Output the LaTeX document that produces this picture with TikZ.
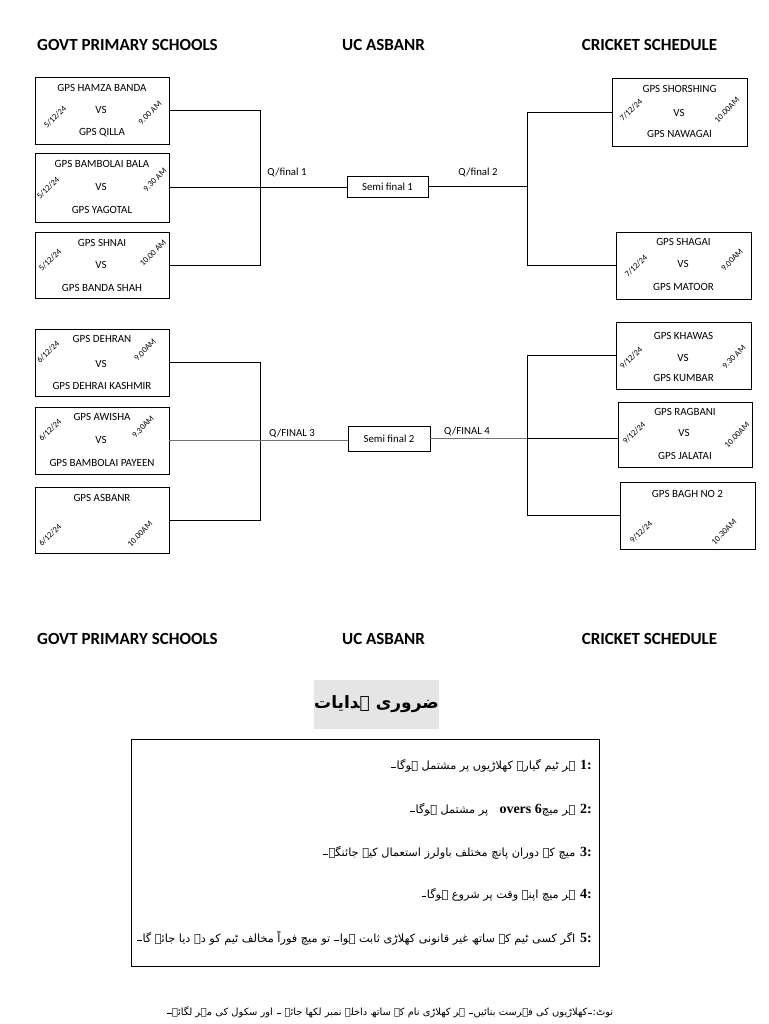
\documentclass[tikz,border=0pt]{standalone}
\usepackage{fontspec}
\setmainfont{Carlito}
\newfontfamily\urdu[Script=Arabic]{DejaVu Sans}
\newfontfamily\numfont{Liberation Serif}
\TeXXeTstate=1
% Urdu full stop, absent from the fonts, drawn as a short bar
\newcommand{\ustop}{\kern0.6pt\raisebox{0.28ex}{\rule{0.42em}{0.11em}}\kern0.6pt}
\newcommand{\unum}[1]{\beginL{\numfont\bfseries\fontsize{14}{16}\selectfont #1}\endL{}}
\begin{document}
\begin{tikzpicture}[x=1pt,y=-1pt,
  matchbox/.style={draw, line width=0.9pt, inner sep=0pt},
  team/.style={font=\fontsize{11}{13}\selectfont, inner sep=0pt},
  stamp/.style={font=\fontsize{8.5}{10}\selectfont, rotate=45, inner sep=0pt},
  semibox/.style={draw, line width=0.9pt, inner sep=0pt, font=\fontsize{10.8}{12}\selectfont},
  link/.style={line width=0.9pt},
  midlink/.style={line width=0.9pt, draw=black!55},
  qlabel/.style={font=\fontsize{10.8}{12}\selectfont, inner sep=0pt},
  header/.style={font=\bfseries\fontsize{17}{20}\selectfont, inner sep=0pt},
  urduline/.style={anchor=east, inner sep=0pt, font=\urdu\fontsize{11.3}{14}\selectfont},
  notestyle/.style={inner sep=0pt, font=\urdu\fontsize{9.9}{13}\selectfont},
  headbox/.style={fill=black!10, minimum width=95pt, minimum height=49pt, inner sep=0pt, font=\urdu\bfseries\fontsize{17}{20}\selectfont},
  rulebox/.style={draw, line width=0.9pt, inner sep=0pt, minimum width=468pt, minimum height=227pt}
]
\useasboundingbox (0,0) rectangle (768,1024);

% headers
\node[header] (h1) at (127.5,45) {GOVT PRIMARY SCHOOLS};
\node[header] (h2) at (383.5,45) {UC ASBANR};
\node[header] (h3) at (649.5,45) {CRICKET SCHEDULE};

% ---- top left matches
\node[matchbox, minimum width=134pt, minimum height=67pt] (m1) at (102,110.5) {};
\node[team] (m1a) at (102,88) {GPS HAMZA BANDA};
\node[team] (m1v) at (101,110) {VS};
\node[team] (m1b) at (102,133) {GPS QILLA};
\node[stamp] (m1d) at (55,117) {5/12/24};
\node[stamp] (m1t) at (150,113) {9.00 AM};

\node[matchbox, minimum width=134pt, minimum height=69pt] (m2) at (102,187.5) {};
\node[team] (m2a) at (102,164) {GPS BAMBOLAI BALA};
\node[team] (m2v) at (101,187) {VS};
\node[team] (m2b) at (102,210) {GPS YAGOTAL};
\node[stamp] (m2d) at (48,188) {5/12/24};
\node[stamp] (m2t) at (155,180) {9.30 AM};

\node[matchbox, minimum width=134pt, minimum height=66pt] (m3) at (102,265) {};
\node[team] (m3a) at (102,243) {GPS SHNAI};
\node[team] (m3v) at (101,265) {VS};
\node[team] (m3b) at (102,288) {GPS BANDA SHAH};
\node[stamp] (m3d) at (50,260) {5/12/24};
\node[stamp] (m3t) at (153,253) {10.00 AM};

% ---- top right matches
\node[matchbox, minimum width=135pt, minimum height=68pt] (m4) at (679.5,112) {};
\node[team] (m4a) at (679.5,89) {GPS SHORSHING};
\node[team] (m4v) at (679,113) {VS};
\node[team] (m4b) at (679.5,134) {GPS NAWAGAI};
\node[stamp] (m4d) at (631,110) {7/12/24};
\node[stamp] (m4t) at (727,110) {10.00AM};

\node[matchbox, minimum width=135pt, minimum height=67pt] (m5) at (683.5,265.5) {};
\node[team] (m5a) at (683.5,242) {GPS SHAGAI};
\node[team] (m5v) at (683,264) {VS};
\node[team] (m5b) at (683.5,287) {GPS MATOOR};
\node[stamp] (m5d) at (636,266) {7/12/24};
\node[stamp] (m5t) at (732,260) {9.00AM};

% ---- bottom left matches
\node[matchbox, minimum width=134pt, minimum height=67pt] (m6) at (102,362.5) {};
\node[team] (m6a) at (102,339) {GPS DEHRAN};
\node[team] (m6v) at (101,364) {VS};
\node[team] (m6b) at (102,386) {GPS DEHRAI KASHMIR};
\node[stamp] (m6d) at (48,352) {6/12/24};
\node[stamp] (m6t) at (145,350) {9.00AM};

\node[matchbox, minimum width=134pt, minimum height=67pt] (m7) at (102,440.5) {};
\node[team] (m7a) at (102,417) {GPS AWISHA};
\node[team] (m7v) at (101,440) {VS};
\node[team] (m7b) at (102,463) {GPS BAMBOLAI PAYEEN};
\node[stamp] (m7d) at (50,430) {6/12/24};
\node[stamp] (m7t) at (143,427) {9.30AM};

\node[matchbox, minimum width=134pt, minimum height=66pt] (m8) at (102,520) {};
\node[team] (m8a) at (102,498) {GPS ASBANR};
\node[stamp] (m8d) at (50,535) {6/12/24};
\node[stamp] (m8t) at (140,534) {10.00AM};

% ---- bottom right matches
\node[matchbox, minimum width=135pt, minimum height=67pt] (m9) at (683.5,355.5) {};
\node[team] (m9a) at (683.5,336) {GPS KHAWAS};
\node[team] (m9v) at (683,358) {VS};
\node[team] (m9b) at (683.5,378) {GPS KUMBAR};
\node[stamp] (m9d) at (631,358) {9/12/24};
\node[stamp] (m9t) at (734,357) {9.30 AM};

\node[matchbox, minimum width=134pt, minimum height=65pt] (m10) at (685,434.5) {};
\node[team] (m10a) at (685,412) {GPS RAGBANI};
\node[team] (m10v) at (684,433) {VS};
\node[team] (m10b) at (685,456) {GPS JALATAI};
\node[stamp] (m10d) at (634,433) {9/12/24};
\node[stamp] (m10t) at (737,435) {10.00AM};

\node[matchbox, minimum width=135pt, minimum height=67pt] (m11) at (687.5,515.5) {};
\node[team] (m11a) at (687.5,494) {GPS BAGH NO 2};
\node[stamp] (m11d) at (641,532) {9/12/24};
\node[stamp] (m11t) at (724,532) {10.30AM};

% ---- semi finals
\node[semibox, minimum width=81pt, minimum height=21pt] (s1) at (387.5,186.5) {Semi final 1};
\node[semibox, minimum width=82pt, minimum height=25pt] (s2) at (389,438.5) {Semi final 2};

% junction points
\coordinate (qa) at (260,187.5);
\coordinate (qb) at (527,186.5);
\coordinate (qc) at (260,440.5);
\coordinate (qd) at (527,438.5);

% connectors
\draw[link] (m1.east) -| (qa);
\draw[link] (m3.east) -| (qa);
\draw[link] (m2.east) -- (m2.east -| s1.west);
\draw[link] (s1.east) -- (qb);
\draw[link] (m4.west) -| (qb);
\draw[link] (m5.west) -| (qb);

\draw[link] (m6.east) -| (qc);
\draw[link] (m8.east) -| (qc);
\draw[midlink] (m7.east) -- (m7.east -| s2.west);
\draw[midlink] (s2.east) -- (s2.east -| m10.west);
\draw[link] (m9.west) -| (qd);
\draw[link] (m11.west) -| (qd);
\draw[link] (qd) -- (qd -| m10.west);

% labels
\node[qlabel] (l1) at (287,172) {Q/final 1};
\node[qlabel] (l2) at (478,172) {Q/final 2};
\node[qlabel] (l3) at (292,433) {Q/FINAL 3};
\node[qlabel] (l4) at (467,431) {Q/FINAL 4};

% second header
\node[header] (h4) at (127.5,639) {GOVT PRIMARY SCHOOLS};
\node[header] (h5) at (383.5,639) {UC ASBANR};
\node[header] (h6) at (649.5,639) {CRICKET SCHEDULE};

% instructions
\node[headbox] (hd) at (376.5,704.5) {\beginR ضروری ہدایات\endR};
\node[rulebox] (rb) at (365,852.5) {};

\node[urduline] (u1) at (592,766) {\beginR\unum{1:} ہر ٹیم گیارہ کھلاڑیوں پر مشتمل ہوگا\ustop\endR};
\node[urduline] (u2) at (592,810) {\beginR\unum{2:} ہر میچ\unum{6} \unum{overs}\quad پر مشتمل ہوگا\ustop\endR};
\node[urduline] (u3) at (592,853) {\beginR\unum{3:} میچ کے دوران پانچ مختلف باولرز استعمال کیے جائنگے\ustop\endR};
\node[urduline] (u4) at (592,895) {\beginR\unum{4:} ہر میچ اپنے وقت پر شروع ہوگا\ustop\endR};
\node[urduline] (u5) at (592,938) {\beginR\unum{5:} اگر کسی ٹیم کے ساتھ غیر قانونی کھلاڑی ثابت ہوا\ustop{} تو میچ فوراً مخالف ٹیم کو دے دیا جائے گا\ustop\endR};

\node[notestyle] (note) at (390,1012) {\beginR نوٹ:\ustop کھلاڑیوں کی فہرست بنائیں\ustop{} ہر کھلاڑی نام کے ساتھ داخلہ نمبر لکھا جائے \ustop{} اور سکول کی مہر لگائے\ustop\endR};
\end{tikzpicture}
\end{document}
